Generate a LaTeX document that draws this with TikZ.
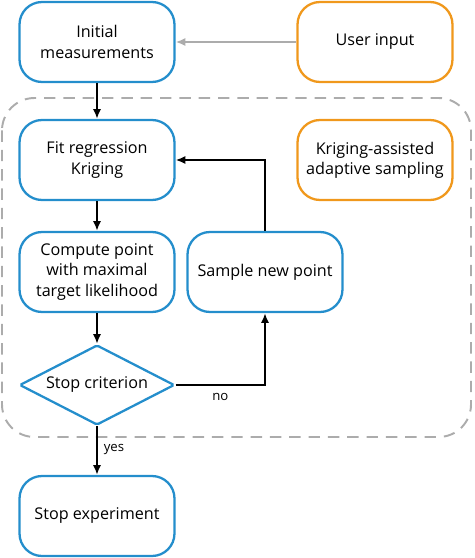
\documentclass[tikz,border=0pt]{standalone}
\usepackage{fontspec}
\setmainfont{Open Sans}
\usepackage{tikz}
\usetikzlibrary{arrows.meta,shapes.geometric}
\definecolor{flowblue}{RGB}{36,142,204}
\definecolor{flowora}{RGB}{240,152,28}
\definecolor{flowgray}{RGB}{172,172,172}

\tikzset{
  stepbox/.style={draw=flowblue, line width=1.3pt, rounded corners=0.45cm, fill=white,
    minimum width=3.1cm, minimum height=1.6cm, align=center, inner sep=2pt},
  userbox/.style={stepbox, draw=flowora},
  decide/.style={draw=flowblue, line width=1.3pt, diamond, aspect=1.94, fill=white,
    minimum width=3.1cm, minimum height=1.6cm, inner sep=0pt, rounded corners=1pt},
  flow/.style={-{Latex[length=5.5pt,width=4.6pt]}, line width=1.1pt},
  answer/.style={font=\fontsize{7.5}{9}\selectfont}
}

\begin{document}
\begin{tikzpicture}[x=0.02cm, y=-0.02cm, font=\fontsize{9.2}{11.5}\selectfont]
\useasboundingbox (0,0) rectangle (474,558);
% adaptive loop frame
\draw[flowgray, line width=1.1pt, dash pattern=on 6.5pt off 4.5pt, rounded corners=0.65cm] (2,98) rectangle (471,437);
\node[userbox] (kas) at (375,160) {Kriging-assisted\\adaptive sampling};
% main chain
\node[stepbox] (init) at (97,42) {Initial\\measurements};
\node[userbox] (user) at (375,42) {User input};
\node[stepbox] (fit) at (97,160) {Fit regression\\Kriging};
\node[stepbox] (comp) at (97,272) {Compute point\\with maximal\\target likelihood};
\node[stepbox] (samp) at (265,272) {Sample new point};
\node[decide] (stop) at (97,385) {Stop criterion};
\node[stepbox] (end) at (97,516) {Stop experiment};
% connectors
\draw[flow, flowgray] (user) -- (init);
\draw[flow] (init) -- (fit);
\draw[flow] (fit) -- (comp);
\draw[flow] (comp) -- (stop);
\draw[flow] (stop) -- node[right, pos=0.47, answer] {yes} (end);
\draw[flow] (stop.east) -- node[below, pos=0.5, yshift=-1pt, answer] {no} (samp.south |- stop.east) -- (samp);
\draw[flow] (samp) -- (samp.north |- fit.east) -- (fit);
\end{tikzpicture}
\end{document}
